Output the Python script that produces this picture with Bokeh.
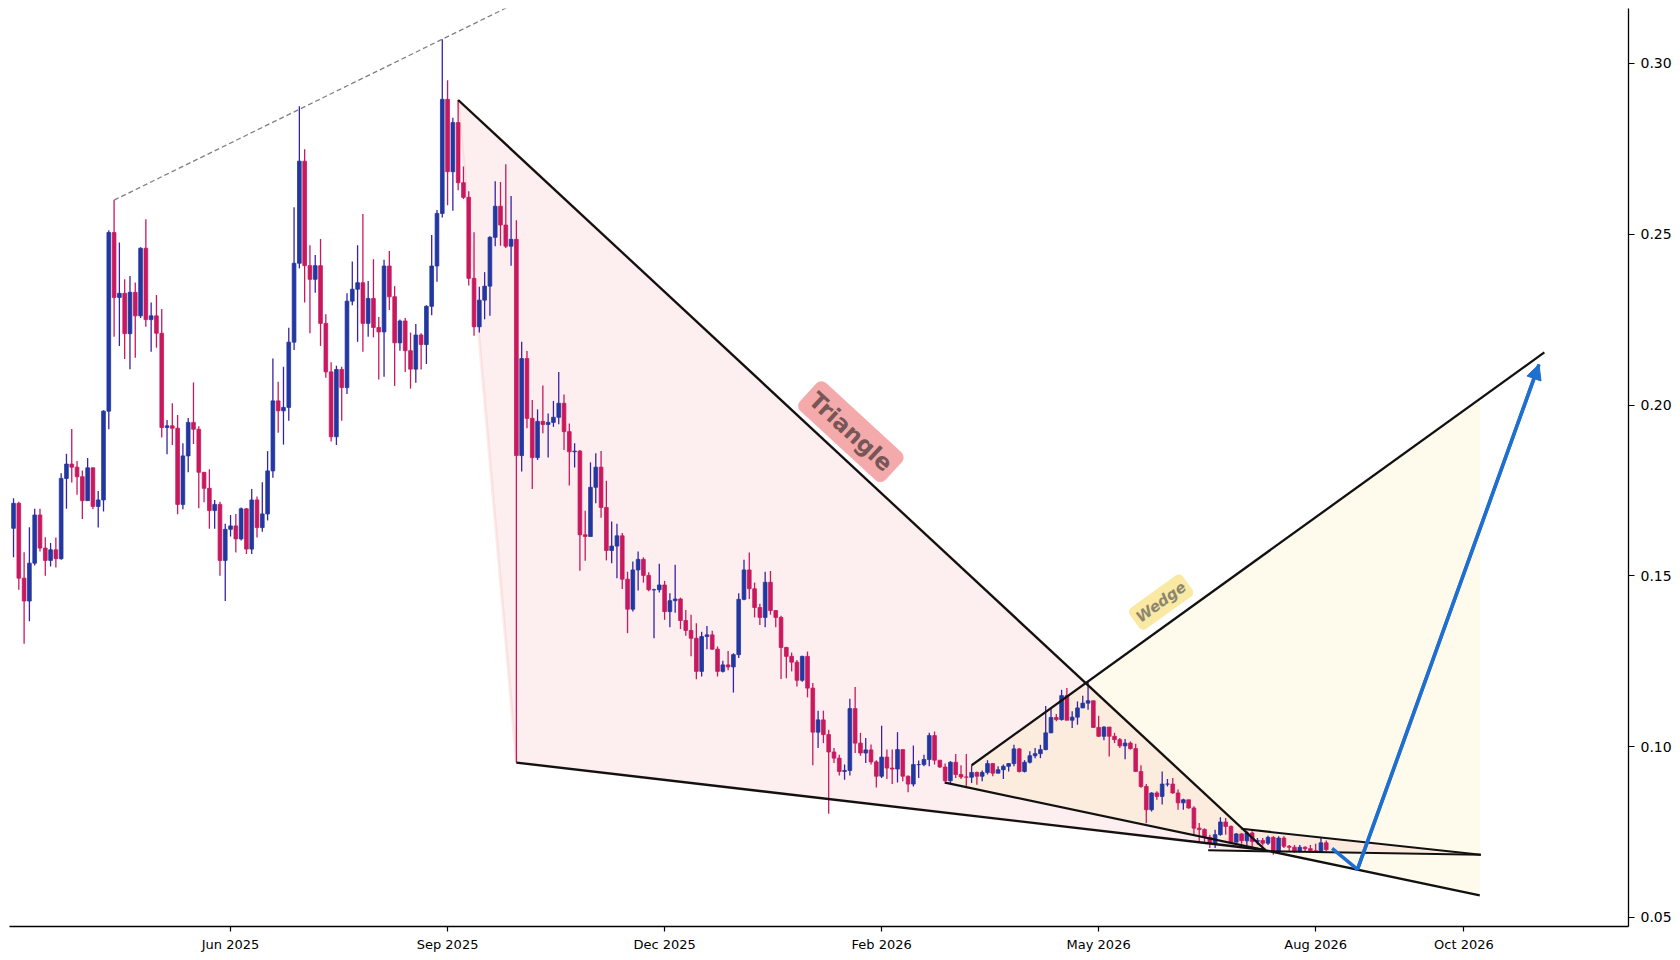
import numpy as np
from bokeh.plotting import figure
from bokeh.models import Range1d, FixedTicker, PrintfTickFormatter, Arrow, NormalHead
from bokeh.core.properties import value
from bokeh.embed import file_html
from bokeh.resources import INLINE

# candles, one per bar index; open of a bar = close of the bar before
first_open = 0.1639
closes = [
    0.1712, 0.1493, 0.1426, 0.1537, 0.1678, 0.1581, 0.1545, 0.1576, 0.1550, 0.1785,
    0.1827, 0.1818, 0.1790, 0.1720, 0.1816, 0.1703, 0.1722, 0.1982, 0.2505, 0.2315,
    0.2327, 0.2209, 0.2330, 0.2261, 0.2459, 0.2250, 0.2261, 0.2210, 0.1934, 0.1939,
    0.1932, 0.1709, 0.1851, 0.1949, 0.1929, 0.1803, 0.1756, 0.1691, 0.1709, 0.1545,
    0.1636, 0.1646, 0.1608, 0.1696, 0.1578, 0.1722, 0.1641, 0.1681, 0.1807, 0.2012,
    0.1983, 0.1993, 0.2184, 0.2415, 0.2714, 0.2408, 0.2368, 0.2408, 0.2239, 0.2097,
    0.1907, 0.2104, 0.2051, 0.2304, 0.2339, 0.2358, 0.2239, 0.2312, 0.2227, 0.2214,
    0.2407, 0.2317, 0.2182, 0.2246, 0.2159, 0.2105, 0.2205, 0.2177, 0.2289, 0.2407,
    0.2561, 0.2895, 0.2683, 0.2827, 0.2651, 0.2608, 0.2371, 0.2229, 0.2307, 0.2348,
    0.2491, 0.2582, 0.2527, 0.2465, 0.2485, 0.1852, 0.2136, 0.1961, 0.1846, 0.1952,
    0.1943, 0.1949, 0.1964, 0.2005, 0.1922, 0.1863, 0.1865, 0.1620, 0.1615, 0.1759,
    0.1818, 0.1700, 0.1574, 0.1587, 0.1617, 0.1490, 0.1402, 0.1517, 0.1548, 0.1501,
    0.1459, 0.1459, 0.1473, 0.1395, 0.1427, 0.1432, 0.1369, 0.1340, 0.1317, 0.1220,
    0.1322, 0.1327, 0.1285, 0.1220, 0.1239, 0.1233, 0.1269, 0.1431, 0.1517, 0.1462,
    0.1407, 0.1378, 0.1481, 0.1398, 0.1378, 0.1290, 0.1264, 0.1247, 0.1194, 0.1264,
    0.1171, 0.1042, 0.1078, 0.1035, 0.0984, 0.0966, 0.0927, 0.0930, 0.1111, 0.1010,
    0.0981, 0.0990, 0.0955, 0.0913, 0.0969, 0.0937, 0.0934, 0.0991, 0.0913, 0.0890,
    0.0947, 0.0947, 0.0962, 0.1032, 0.0960, 0.0940, 0.0900, 0.0954, 0.0918, 0.0911,
    0.0910, 0.0924, 0.0913, 0.0924, 0.0950, 0.0922, 0.0932, 0.0942, 0.0950, 0.0993,
    0.0927, 0.0954, 0.0973, 0.0979, 0.0991, 0.1040, 0.1085, 0.1079, 0.1149, 0.1077,
    0.1086, 0.1113, 0.1127, 0.1134, 0.1056, 0.1030, 0.1057, 0.1030, 0.1020, 0.1002,
    0.1010, 0.0994, 0.0927, 0.0883, 0.0815, 0.0864, 0.0854, 0.0890, 0.0890, 0.0864,
    0.0835, 0.0844, 0.0820, 0.0761, 0.0757, 0.0734, 0.0717, 0.0742, 0.0779, 0.0766,
    0.0720, 0.0744, 0.0724, 0.0747, 0.0722, 0.0725, 0.0717, 0.0734, 0.0693, 0.0732,
    0.0708, 0.0705, 0.0693, 0.0705, 0.0701, 0.0695, 0.0693, 0.0718, 0.0698,
]
highs = [
    0.1727, 0.1717, 0.1569, 0.1642, 0.1696, 0.1696, 0.1613, 0.1596, 0.1612, 0.1800,
    0.1857, 0.1930, 0.1836, 0.1808, 0.1845, 0.1816, 0.1748, 0.1985, 0.2512, 0.2600,
    0.2476, 0.2368, 0.2378, 0.2359, 0.2462, 0.2544, 0.2300, 0.2322, 0.2281, 0.1956,
    0.2005, 0.1971, 0.1888, 0.1962, 0.2066, 0.1938, 0.1803, 0.1812, 0.1722, 0.1717,
    0.1652, 0.1678, 0.1681, 0.1700, 0.1698, 0.1754, 0.1732, 0.1774, 0.1865, 0.2136,
    0.2068, 0.2112, 0.2226, 0.2579, 0.2875, 0.2749, 0.2468, 0.2439, 0.2486, 0.2266,
    0.2125, 0.2115, 0.2112, 0.2327, 0.2420, 0.2468, 0.2559, 0.2363, 0.2427, 0.2258,
    0.2425, 0.2451, 0.2348, 0.2250, 0.2255, 0.2212, 0.2237, 0.2210, 0.2292, 0.2498,
    0.2571, 0.3071, 0.2951, 0.2841, 0.2893, 0.2698, 0.2626, 0.2506, 0.2346, 0.2389,
    0.2494, 0.2655, 0.2653, 0.2705, 0.2612, 0.2541, 0.2185, 0.2158, 0.2015, 0.1987,
    0.2057, 0.1975, 0.2012, 0.2097, 0.2031, 0.1946, 0.1888, 0.1868, 0.1690, 0.1832,
    0.1859, 0.1865, 0.1778, 0.1659, 0.1652, 0.1625, 0.1512, 0.1542, 0.1571, 0.1554,
    0.1510, 0.1462, 0.1535, 0.1485, 0.1449, 0.1532, 0.1436, 0.1400, 0.1386, 0.1361,
    0.1336, 0.1353, 0.1339, 0.1293, 0.1251, 0.1280, 0.1273, 0.1449, 0.1547, 0.1568,
    0.1480, 0.1418, 0.1512, 0.1514, 0.1400, 0.1383, 0.1292, 0.1275, 0.1253, 0.1266,
    0.1278, 0.1186, 0.1105, 0.1105, 0.1049, 0.0996, 0.0976, 0.0947, 0.1140, 0.1174,
    0.1040, 0.1025, 0.1006, 0.0960, 0.1061, 0.0991, 0.0991, 0.1042, 0.0991, 0.0915,
    0.1003, 0.0959, 0.0976, 0.1040, 0.1044, 0.0957, 0.0950, 0.0957, 0.0978, 0.0945,
    0.0978, 0.0945, 0.0927, 0.0930, 0.0960, 0.0952, 0.0942, 0.0947, 0.0952, 0.1005,
    0.0996, 0.0960, 0.0986, 0.0996, 0.1005, 0.1119, 0.1113, 0.1095, 0.1166, 0.1171,
    0.1103, 0.1132, 0.1149, 0.1191, 0.1134, 0.1090, 0.1059, 0.1057, 0.1040, 0.1025,
    0.1022, 0.1015, 0.1008, 0.0945, 0.0890, 0.0866, 0.0869, 0.0927, 0.0905, 0.0908,
    0.0874, 0.0847, 0.0844, 0.0825, 0.0776, 0.0761, 0.0742, 0.0756, 0.0793, 0.0791,
    0.0769, 0.0747, 0.0747, 0.0752, 0.0752, 0.0732, 0.0732, 0.0739, 0.0737, 0.0737,
    0.0737, 0.0712, 0.0712, 0.0712, 0.0708, 0.0712, 0.0715, 0.0734, 0.0725,
]
lows = [
    0.1554, 0.1459, 0.1301, 0.1367, 0.1530, 0.1571, 0.1500, 0.1527, 0.1524, 0.1547,
    0.1696, 0.1773, 0.1737, 0.1666, 0.1720, 0.1695, 0.1641, 0.1688, 0.1929, 0.2200,
    0.2173, 0.2135, 0.2105, 0.2138, 0.2255, 0.2229, 0.2156, 0.2168, 0.1905, 0.1856,
    0.1883, 0.1680, 0.1695, 0.1803, 0.1886, 0.1698, 0.1715, 0.1638, 0.1638, 0.1500,
    0.1426, 0.1615, 0.1568, 0.1603, 0.1564, 0.1564, 0.1612, 0.1629, 0.1662, 0.1787,
    0.1919, 0.1884, 0.1954, 0.2161, 0.2400, 0.2300, 0.2210, 0.2329, 0.2173, 0.2080,
    0.1893, 0.1883, 0.1954, 0.2032, 0.2292, 0.2185, 0.2156, 0.2200, 0.2198, 0.2075,
    0.2083, 0.2278, 0.2056, 0.2159, 0.2097, 0.2048, 0.2065, 0.2104, 0.2120, 0.2263,
    0.2361, 0.2549, 0.2585, 0.2569, 0.2629, 0.2603, 0.2350, 0.2203, 0.2212, 0.2251,
    0.2261, 0.2465, 0.2466, 0.2460, 0.2408, 0.0953, 0.1805, 0.1932, 0.1754, 0.1839,
    0.1917, 0.1846, 0.1936, 0.1944, 0.1868, 0.1764, 0.1817, 0.1515, 0.1544, 0.1615,
    0.1712, 0.1670, 0.1545, 0.1537, 0.1493, 0.1461, 0.1332, 0.1395, 0.1457, 0.1480,
    0.1455, 0.1317, 0.1451, 0.1371, 0.1349, 0.1392, 0.1344, 0.1324, 0.1264, 0.1197,
    0.1205, 0.1285, 0.1283, 0.1205, 0.1217, 0.1223, 0.1158, 0.1259, 0.1428, 0.1432,
    0.1378, 0.1356, 0.1349, 0.1386, 0.1349, 0.1198, 0.1200, 0.1220, 0.1176, 0.1190,
    0.1144, 0.0945, 0.0996, 0.1010, 0.0803, 0.0952, 0.0915, 0.0903, 0.0915, 0.0981,
    0.0973, 0.0952, 0.0947, 0.0880, 0.0908, 0.0905, 0.0890, 0.0895, 0.0898, 0.0866,
    0.0883, 0.0908, 0.0942, 0.0942, 0.0947, 0.0937, 0.0890, 0.0893, 0.0908, 0.0905,
    0.0883, 0.0893, 0.0888, 0.0898, 0.0918, 0.0913, 0.0922, 0.0905, 0.0927, 0.0942,
    0.0924, 0.0924, 0.0950, 0.0966, 0.0966, 0.0989, 0.1040, 0.1074, 0.1076, 0.1077,
    0.1054, 0.1064, 0.1113, 0.1108, 0.1054, 0.1028, 0.1018, 0.0971, 0.1010, 0.0996,
    0.0963, 0.0991, 0.0927, 0.0879, 0.0775, 0.0810, 0.0844, 0.0830, 0.0883, 0.0862,
    0.0815, 0.0815, 0.0818, 0.0742, 0.0718, 0.0718, 0.0703, 0.0703, 0.0739, 0.0742,
    0.0715, 0.0720, 0.0715, 0.0710, 0.0705, 0.0713, 0.0710, 0.0712, 0.0683, 0.0688,
    0.0703, 0.0693, 0.0688, 0.0690, 0.0693, 0.0688, 0.0690, 0.0690, 0.0693,
]

x_ticks = [41, 82, 123, 164, 205, 246, 274]
x_tick_labels = ["Jun 2025", "Sep 2025", "Dec 2025", "Feb 2026", "May 2026", "Aug 2026", "Oct 2026"]
y_ticks = [0.05, 0.10, 0.15, 0.20, 0.25, 0.30]

# pattern anchor points (bar index, price)
resistance_x = [19, 81]
resistance_y = [0.2600, 0.3071]
triangle_x = [84, 95, 236.5]
triangle_y = [0.2893, 0.0953, 0.0697]
wedge_upper_x = [181, 289.2]
wedge_upper_y = [0.0945, 0.2154]
wedge_lower_x = [176, 277]
wedge_lower_y = [0.0894, 0.0564]
pennant_x = [225.7, 232, 277.2]
pennant_y = [0.0696, 0.0759, 0.0683]
path_x = [249.1, 253.9, 288.2]
path_y = [0.0702, 0.0640, 0.2119]
triangle_label = (158.2, 0.1922)
wedge_label = (216.8, 0.1423)

UP = "#2337a0"
UP_WICK = "#3823a6"
DOWN = "#c8195f"
INK = "#111111"
BLUE = "#1f6fd1"

closes_a = np.array(closes)
opens_a = np.concatenate([[first_open], closes_a[:-1]])
idx = np.arange(len(closes_a))
up = closes_a >= opens_a
body_col = np.where(up, UP, DOWN)
wick_col = np.where(up, UP_WICK, DOWN)

p = figure(
    frame_width=1619,
    frame_height=918,
    x_range=Range1d(-0.76, 305.1),
    y_range=Range1d(0.0473, 0.3161),
    y_axis_location="right",
    toolbar_location=None,
    tools="",
    output_backend="svg",
    min_border_left=9,
    min_border_top=8,
    min_border_bottom=0,
    min_border_right=40,
)
p.outline_line_color = None
p.xgrid.grid_line_color = None
p.ygrid.grid_line_color = None

# filled pattern areas
p.patch(triangle_x, triangle_y, fill_color="#f08080", fill_alpha=0.13,
        line_color="#f08080", line_alpha=0.15, line_width=3)
slope_up = (wedge_upper_y[1] - wedge_upper_y[0]) / (wedge_upper_x[1] - wedge_upper_x[0])
wedge_top_end = wedge_upper_y[0] + slope_up * (wedge_lower_x[1] - wedge_upper_x[0])
p.patch([wedge_upper_x[0], wedge_lower_x[1], wedge_lower_x[1], wedge_lower_x[0]],
        [wedge_upper_y[0], wedge_top_end, wedge_lower_y[1], wedge_lower_y[0]],
        fill_color="#f5d76e", fill_alpha=0.13, line_color=None)
p.patch(pennant_x, pennant_y, fill_color="#f08080", fill_alpha=0.13, line_color=None)

# candles
p.segment(idx, highs, idx, lows, line_color=wick_col, line_width=1.3)
p.vbar(x=idx, top=np.maximum(opens_a, closes_a), bottom=np.minimum(opens_a, closes_a),
       width=0.7, fill_color=body_col, line_color=body_col, line_width=0.8)

# resistance line through the highs, running off the top
r_slope = (resistance_y[1] - resistance_y[0]) / (resistance_x[1] - resistance_x[0])
p.line([resistance_x[0], 100], [resistance_y[0], resistance_y[0] + r_slope * (100 - resistance_x[0])],
       line_color="#808080", line_width=1.3, line_dash="5 3")

# triangle
p.line([triangle_x[0], triangle_x[2]], [triangle_y[0], triangle_y[2]], line_color=INK, line_width=2.3)
p.line([triangle_x[1], triangle_x[2]], [triangle_y[1], triangle_y[2]], line_color=INK, line_width=2.3)
# wedge
p.line(wedge_upper_x, wedge_upper_y, line_color=INK, line_width=2.3)
p.line(wedge_lower_x, wedge_lower_y, line_color=INK, line_width=2.3)
# pennant
p.line([pennant_x[0], pennant_x[2]], [pennant_y[0], pennant_y[2]], line_color=INK, line_width=2)
p.line([pennant_x[1], pennant_x[2]], [pennant_y[1], pennant_y[2]], line_color=INK, line_width=2)

# projected path
p.line(path_x, path_y, line_color=BLUE, line_width=3.5)
p.add_layout(Arrow(end=NormalHead(size=15, fill_color=BLUE, line_color=BLUE),
                   x_start=path_x[-2], y_start=path_y[-2], x_end=path_x[-1], y_end=path_y[-1],
                   line_color=BLUE, line_width=3.5))

p.text(x=[triangle_label[0]], y=[triangle_label[1]], text=["Triangle"], angle=-42.6, angle_units="deg",
       text_font=value("DejaVu Sans"), text_font_style="bold", text_font_size="23px",
       text_color="#765656", text_align="center", text_baseline="middle",
       background_fill_color="#f4aaaa", border_radius=7, padding=6)
p.text(x=[wedge_label[0]], y=[wedge_label[1]], text=["Wedge"], angle=35.8, angle_units="deg",
       text_font=value("DejaVu Sans"), text_font_style="bold italic", text_font_size="15px",
       text_color="#8c8670", text_align="center", text_baseline="middle",
       background_fill_color="#f9e9a2", border_radius=5, padding=4)

for ax in (p.xaxis[0], p.yaxis[0]):
    ax.axis_line_color = "black"
    ax.axis_line_width = 1.3
    ax.major_tick_line_color = "black"
    ax.major_tick_line_width = 1.2
    ax.major_tick_in = 0
    ax.minor_tick_line_color = None
    ax.major_label_text_font = "DejaVu Sans"
    ax.major_label_text_color = "black"

p.xaxis.ticker = FixedTicker(ticks=x_ticks)
p.xaxis.major_label_overrides = {t: s for t, s in zip(x_ticks, x_tick_labels)}
p.xaxis.major_tick_out = 5
p.xaxis.major_label_standoff = 5
p.xaxis.major_label_text_font_size = "13px"
p.yaxis.ticker = FixedTicker(ticks=y_ticks)
p.yaxis.formatter = PrintfTickFormatter(format="%.2f")
p.yaxis.major_tick_out = 6
p.yaxis.major_label_standoff = 6
p.yaxis.major_label_text_font_size = "14px"

open("out.html", "w").write(file_html(p, INLINE))
